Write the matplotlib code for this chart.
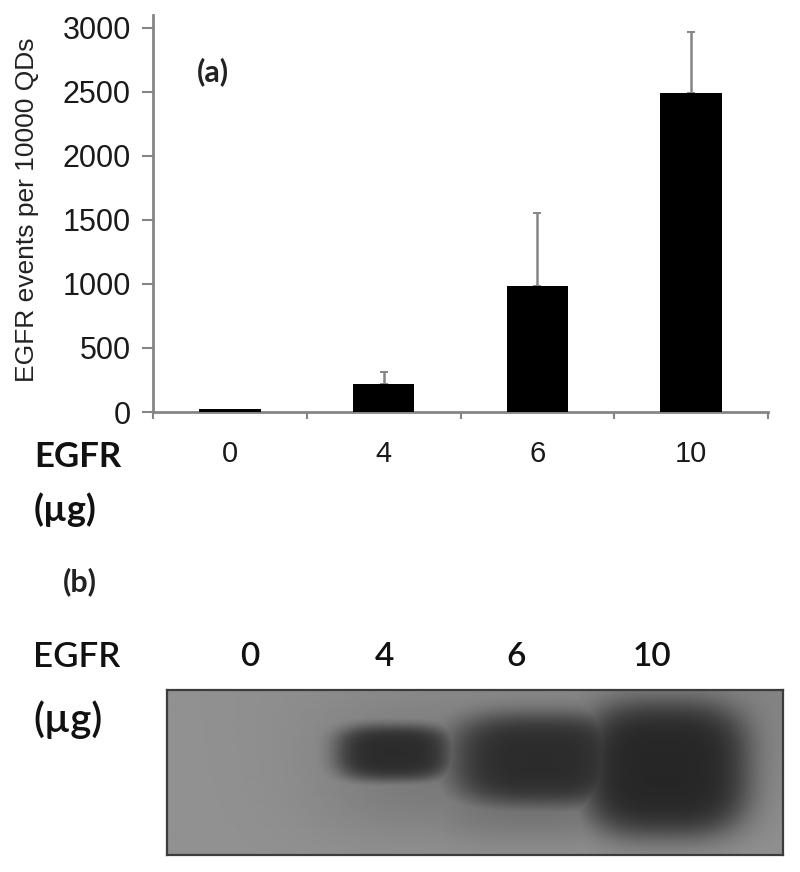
#!/usr/bin/env python3
"""EGFR events bar chart (a) with the matching western blot strip (b)."""

import numpy as np
import matplotlib
matplotlib.use('Agg')
import matplotlib.pyplot as plt

W, H = 800, 872

doses = ['0', '4', '6', '10']
events = [25, 220, 985, 2490]
events_err = [0, 90, 565, 480]
y_ticks = [0, 500, 1000, 1500, 2000, 2500, 3000]

# blot bands: dose label, relative darkness
blot_labels = ['0', '4', '6', '10']
blot_darkness = [0.0, 0.95, 0.95, 1.0]

GREY = '#858585'


def fig_axes(fig, left, top, right, bottom):
    """Axes from pixel edges, measured from the top left of the figure."""
    return fig.add_axes([left / W, 1 - bottom / H, (right - left) / W, (bottom - top) / H])


def px_text(fig, x, y, s, **kw):
    kw.setdefault('va', 'center')
    kw.setdefault('ha', 'left')
    return fig.text(x / W, 1 - y / H, s, **kw)


def soft_band(xx, yy, cx, cy, rx, ry, edge=0.13, p=3):
    # rounded blob with a soft edge
    d = (np.abs((xx - cx) / rx) ** p + np.abs((yy - cy) / ry) ** p) ** (1 / p)
    return 1 / (1 + np.exp((d - 1) / edge))


fig = plt.figure(figsize=(W / 100, H / 100), dpi=100)

# (a) bar chart
ax = fig_axes(fig, 153, 15, 768, 412)
x = np.arange(len(doses))
ax.bar(x, events, width=0.4, color='black', zorder=3)
ax.errorbar(x[1:], events[1:], yerr=[np.zeros(3), events_err[1:]], fmt='none',
            ecolor=GREY, elinewidth=1.8, capsize=3, capthick=1.4, zorder=2)
ax.set_xlim(-0.5, 3.5)
ax.set_ylim(0, 3100)
ax.set_yticks(y_ticks)
ax.set_xticks([-0.5, 0.5, 1.5, 2.5, 3.5])
ax.set_xticklabels([])
ax.set_xticks(x, labels=doses, minor=True)
ax.tick_params(axis='y', length=8, width=1.5, color=GREY, labelsize=22, pad=8,
               labelcolor='#1a1a1a', labelfontfamily='Liberation Sans')
ax.tick_params(axis='x', which='major', length=5, width=1.5, color=GREY)
ax.tick_params(axis='x', which='minor', length=0, labelsize=21, pad=20,
               labelcolor='#1a1a1a', labelfontfamily='Liberation Sans')
for side in ['top', 'right']:
    ax.spines[side].set_visible(False)
for side in ['left', 'bottom']:
    ax.spines[side].set_color(GREY)
    ax.spines[side].set_linewidth(2)

px_text(fig, 27, 210, 'EGFR events per 10000 QDs', rotation=90, ha='center',
        fontsize=19, family='Liberation Sans', color='#222222')
px_text(fig, 197, 72, '(a)', fontsize=22, family='Lato', fontweight='bold', color='#222222')
px_text(fig, 34, 457, 'EGFR', fontsize=25, family='Lato', fontweight='bold', color='#111111')
px_text(fig, 34, 510, '(µg)', fontsize=26, family='Lato', fontweight='bold', color='#111111')
px_text(fig, 63, 582, '(b)', fontsize=22, family='Lato', fontweight='bold', color='#222222')

# (b) blot strip
px_text(fig, 33, 657, 'EGFR', fontsize=25, family='Lato', fontweight='semibold', color='#111111')
px_text(fig, 33, 720, '(µg)', fontsize=29, family='Lato', fontweight='semibold', color='#111111')
for lab, xp in zip(blot_labels, [250, 384, 516, 652]):
    px_text(fig, xp, 657, lab, fontsize=24, family='Lato', fontweight='semibold',
            ha='center', color='#111111')

blot = fig_axes(fig, 167, 690, 783, 855)
xx, yy = np.meshgrid(np.arange(167, 783), np.arange(690, 855))
bands = [
    blot_darkness[1] * soft_band(xx, yy, 394, 753, 57, 27, edge=0.15),
    blot_darkness[2] * soft_band(xx, yy, 540, 760, 88, 45, edge=0.16),
    blot_darkness[3] * soft_band(xx, yy, 665, 769, 82, 66, edge=0.14),
    0.30 * soft_band(xx, yy, 530, 790, 90, 45, edge=0.25),
    0.22 * soft_band(xx, yy, 450, 770, 110, 55, edge=0.3),
]
dark = np.max(bands, axis=0)
# backing gets a bit lighter towards the left and bottom
back = 0.57 - 0.05 * (690 + 165 - yy) / 165 * (xx - 167) / 616
img = back - dark * (back - 0.15)
blot.imshow(img, cmap='gray', vmin=0, vmax=1, aspect='auto', interpolation='bilinear')
blot.set_xticks([])
blot.set_yticks([])
for s in blot.spines.values():
    s.set_color('#3c3c3c')
    s.set_linewidth(1.6)

fig.savefig('out.png', dpi=100)
